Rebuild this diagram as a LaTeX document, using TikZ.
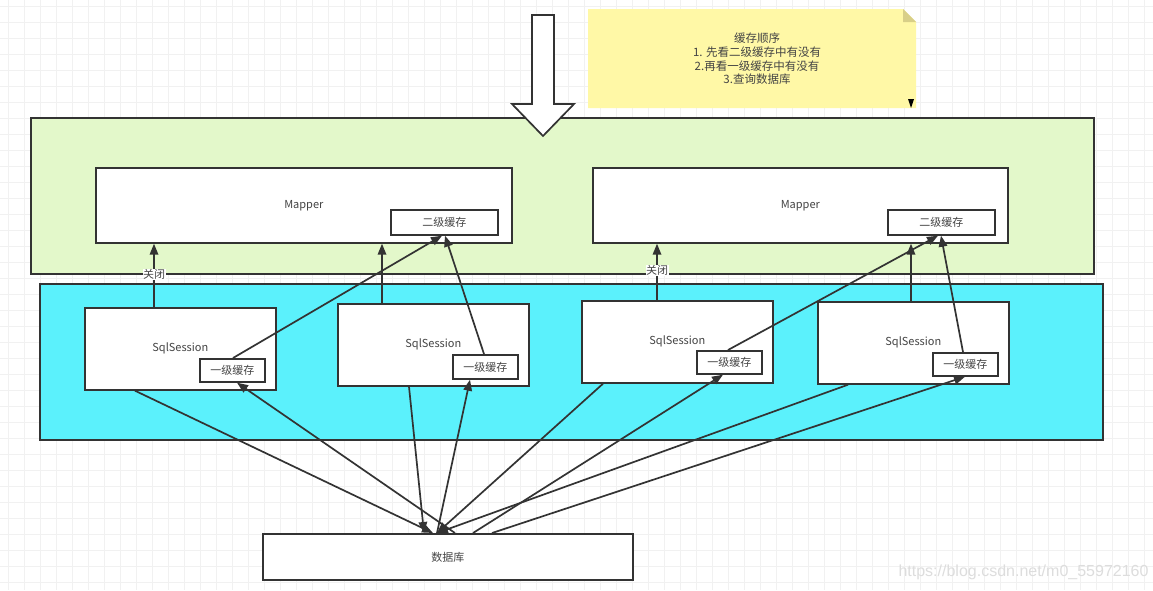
\documentclass[tikz,border=0pt]{standalone}
\usepackage{fontspec}
\setmainfont{Noto Sans CJK SC}
\newfontfamily\wmfont{Liberation Sans}
\usetikzlibrary{arrows.meta,calc}
\definecolor{grn}{HTML}{E3F8CA}
\definecolor{cyn}{HTML}{5BF1FC}
\definecolor{yel}{HTML}{FFF8A6}
\definecolor{fold}{HTML}{D8CF88}
\definecolor{ink}{HTML}{333333}
\definecolor{txt}{HTML}{444444}
\definecolor{gridc}{HTML}{F1F1F1}
\definecolor{wmc}{HTML}{DDDDDD}
\tikzset{
  box/.style={draw=ink, line width=1.7pt, fill=white, anchor=north west, inner sep=0pt,
    font=\fontsize{11}{13}\selectfont, text=txt},
  arr/.style={draw=ink, line width=1.7pt, -{Triangle[length=11pt,width=8.5pt]}},
  lbl/.style={fill=white, inner sep=0.5pt, font=\fontsize{11}{13}\selectfont, text=txt},
  gline/.style={draw=gridc, line width=0.6pt}
}
\begin{document}
\begin{tikzpicture}[x=1pt,y=-1pt]
\useasboundingbox (0,0) rectangle (1153,590);
\fill[white] (0,0) rectangle (1153,590);
% grid
\foreach \i in {8,24,...,1152} \draw[gline] (\i,0) -- (\i,590);
\foreach \j in {6,22,...,590} \draw[gline] (0,\j) -- (1153,\j);
% note
\fill[yel] (588,9) -- (903,9) -- (916,22) -- (916,108) -- (588,108) -- cycle;
\fill[fold] (903,9) -- (916,22) -- (903,22) -- cycle;
\fill[black] (908,99) -- (914,99) -- (911,108) -- cycle;
\node[align=center, font=\fontsize{11.5}{13.7}\selectfont, text=txt] (note) at (757,59)
  {缓存顺序\\1. 先看二级缓存中有没有\\2.再看一级缓存中有没有\\3.查询数据库};
% regions
\node[box, fill=grn, minimum width=1063pt, minimum height=156pt] (green) at (30,117) {};
\node[box, fill=cyn, minimum width=1063pt, minimum height=156pt] (cyan) at (39,283) {};
% mappers
\node[box, minimum width=416pt, minimum height=75pt] (m1) at (95,167) {Mapper};
\node[box, minimum width=107pt, minimum height=25pt] (c2a) at (390,209) {二级缓存};
\node[box, minimum width=415pt, minimum height=75pt] (m2) at (592,167) {Mapper};
\node[box, minimum width=107pt, minimum height=25pt] (c2b) at (887,209) {二级缓存};
% sessions
\node[box, minimum width=191pt, minimum height=82pt] (ss1) at (84,307) {SqlSession};
\node[box, minimum width=65pt, minimum height=23pt] (c1a) at (199,358) {一级缓存};
\node[box, minimum width=191pt, minimum height=82pt] (ss2) at (337,303) {SqlSession};
\node[box, minimum width=65pt, minimum height=24pt] (c1b) at (452,354) {一级缓存};
\node[box, minimum width=191pt, minimum height=82pt] (ss3) at (581,300) {SqlSession};
\node[box, minimum width=65pt, minimum height=23pt] (c1c) at (696,350) {一级缓存};
\node[box, minimum width=191pt, minimum height=82pt] (ss4) at (817,301) {SqlSession};
\node[box, minimum width=65pt, minimum height=23pt] (c1d) at (932,352) {一级缓存};
% database
\node[box, minimum width=370pt, minimum height=46pt] (db) at (262,533) {数据库};
% upward arrows
\draw[arr] ([xshift=70pt]ss1.north west) -- node[lbl, pos=0.52] {关闭} ([xshift=59pt]m1.south west);
\draw[arr] ([xshift=45pt]ss2.north west) -- ([xshift=287pt]m1.south west);
\draw[arr] ([xshift=34pt]c1a.north west) -- ([xshift=52pt]c2a.south west);
\draw[arr] ([xshift=32pt]c1b.north west) -- ([xshift=55pt]c2a.south west);
\draw[arr] ([xshift=76pt]ss3.north west) -- node[lbl, pos=0.52] {关闭} ([xshift=65pt]m2.south west);
\draw[arr] ([xshift=32pt]c1c.north west) -- ([xshift=51pt]c2b.south west);
\draw[arr] ([xshift=94pt]ss4.north west) -- ([xshift=319pt]m2.south west);
\draw[arr] ([xshift=31pt]c1d.north west) -- ([xshift=54pt]c2b.south west);
% database arrows
\draw[arr] ([xshift=51pt]ss1.south west) -- ([xshift=171pt]db.north west);
\draw[arr] ([xshift=193pt]db.north west) -- ([xshift=38pt]c1a.south west);
\draw[arr] ([xshift=72pt]ss2.south west) -- ([xshift=162pt]db.north west);
\draw[arr] ([xshift=175pt]db.north west) -- ([xshift=18pt]c1b.south west);
\draw[arr] ([xshift=22pt]ss3.south west) -- ([xshift=175pt]db.north west);
\draw[arr] ([xshift=211pt]db.north west) -- ([xshift=27pt]c1c.south west);
\draw[arr] ([xshift=31pt]ss4.south west) -- ([xshift=175pt]db.north west);
\draw[arr] ([xshift=230pt]db.north west) -- ([xshift=33pt]c1d.south west);
% big hollow arrow
\draw[draw=ink, line width=1.7pt, fill=white, line join=miter]
  (532,15) -- (554,15) -- (554,104) -- (574,104) -- (543,136) -- (512,104) -- (532,104) -- cycle;
% watermark
\node[font=\wmfont\fontsize{16}{18}\selectfont, text=wmc, anchor=west] (wm) at (895,572) {https://blog.csdn.net/m0\_55972160};
\end{tikzpicture}
\end{document}
